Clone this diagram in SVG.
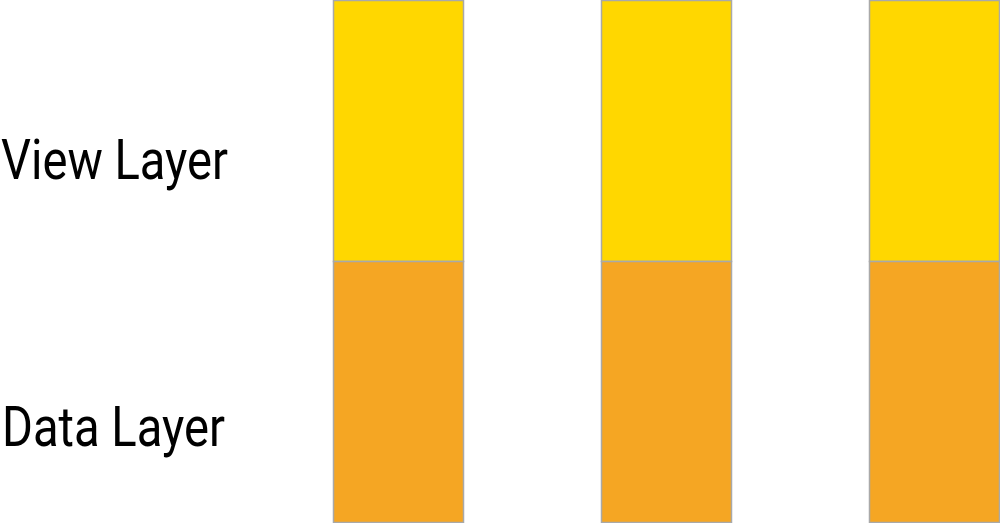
<svg xmlns="http://www.w3.org/2000/svg" width="1000" height="523" viewBox="0 0 1000 523">
<style>
.view{fill:#FFD700;stroke:#A9A9A9;stroke-width:1.5}
.data{fill:#F5A623;stroke:#A9A9A9;stroke-width:1.5}
.lbl{font-family:Roboto,"Liberation Sans",sans-serif;font-size:55px;font-weight:400;fill:#000}
</style>
<rect width="1000" height="523" fill="#fff"/>
<g id="labels">
<text class="lbl" x="1" y="179" textLength="227" lengthAdjust="spacingAndGlyphs">View Layer</text>
<text class="lbl" x="2" y="446" textLength="223" lengthAdjust="spacingAndGlyphs">Data Layer</text>
</g>
<g id="col1">
<rect class="view" x="333.5" y="0.5" width="130" height="261"/>
<rect class="data" x="333.5" y="261.5" width="130" height="261"/>
</g>
<g id="col2">
<rect class="view" x="601.5" y="0.5" width="130" height="261"/>
<rect class="data" x="601.5" y="261.5" width="130" height="261"/>
</g>
<g id="col3">
<rect class="view" x="869.5" y="0.5" width="130" height="261"/>
<rect class="data" x="869.5" y="261.5" width="130" height="261"/>
</g>
<g id="connectors"></g>
</svg>
